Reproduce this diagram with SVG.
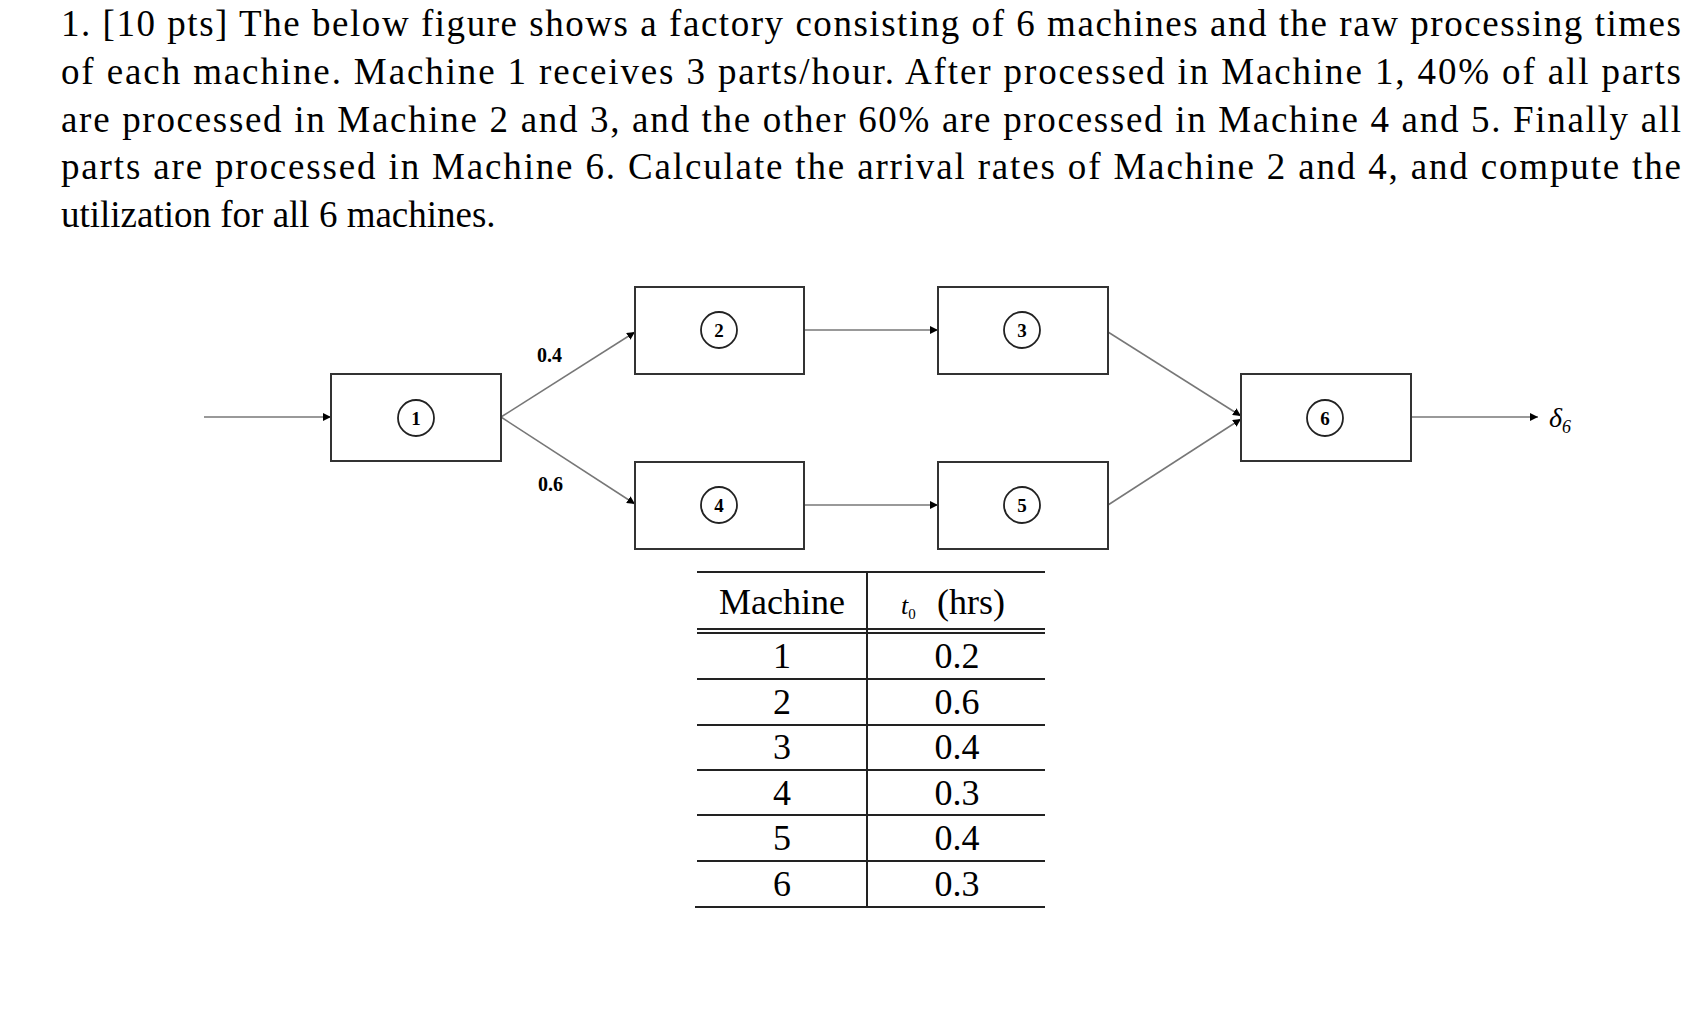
<svg xmlns="http://www.w3.org/2000/svg" width="1696" height="1014" viewBox="0 0 1696 1014">
<style>
.t{font-family:"Liberation Serif",serif;font-size:37px;fill:#000}
.box{fill:#fff;stroke:#333;stroke-width:2}
.c{fill:none;stroke:#222;stroke-width:1.8}
.n{font-family:"Liberation Serif",serif;font-size:19px;font-weight:bold;text-anchor:middle}
.lbl{font-family:"Liberation Serif",serif;font-size:20px;font-weight:bold}
.e{stroke:#777;stroke-width:1.5;fill:none}
.tb{font-family:"Liberation Serif",serif;font-size:36px;text-anchor:middle}
.tl{stroke:#222;stroke-width:2}
</style>
<defs><marker id="a" viewBox="0 0 10 10" refX="10" refY="5" markerWidth="8" markerHeight="8" markerUnits="userSpaceOnUse" orient="auto"><path d="M0,0L10,5L0,10z" fill="#000"/></marker></defs>
<rect width="1696" height="1014" fill="#fff"/>
<g id="question">
<text class="t" x="61" y="36" textLength="1620" lengthAdjust="spacing">1. [10 pts] The below figure shows a factory consisting of 6 machines and the raw processing times</text>
<text class="t" x="61" y="84" textLength="1620" lengthAdjust="spacing">of each machine. Machine 1 receives 3 parts/hour. After processed in Machine 1, 40% of all parts</text>
<text class="t" x="61" y="132" textLength="1620" lengthAdjust="spacing">are processed in Machine 2 and 3, and the other 60% are processed in Machine 4 and 5. Finally all</text>
<text class="t" x="61" y="179" textLength="1620" lengthAdjust="spacing">parts are processed in Machine 6. Calculate the arrival rates of Machine 2 and 4, and compute the</text>
<text class="t" x="61" y="227">utilization for all 6 machines.</text>
</g>
<g id="connectors">
<line class="e" x1="204" y1="417" x2="331" y2="417" marker-end="url(#a)"/>
<line class="e" x1="501" y1="417" x2="635" y2="332" marker-end="url(#a)"/>
<line class="e" x1="501" y1="417" x2="635" y2="504" marker-end="url(#a)"/>
<line class="e" x1="804" y1="330" x2="938" y2="330" marker-end="url(#a)"/>
<line class="e" x1="804" y1="505" x2="938" y2="505" marker-end="url(#a)"/>
<line class="e" x1="1108" y1="332" x2="1241" y2="416" marker-end="url(#a)"/>
<line class="e" x1="1108" y1="505" x2="1241" y2="419" marker-end="url(#a)"/>
<line class="e" x1="1411" y1="417" x2="1538" y2="417" marker-end="url(#a)"/>
<text class="lbl" x="537" y="362">0.4</text>
<text class="lbl" x="538" y="491">0.6</text>
<text x="1549" y="427" font-family="Liberation Serif,serif" font-style="italic" font-size="28">δ<tspan font-size="18" dy="6">6</tspan></text>
</g>
<g id="m1"><rect class="box" x="331" y="374" width="170" height="87"/><circle class="c" cx="416" cy="418" r="18"/><text class="n" x="416" y="425">1</text></g>
<g id="m2"><rect class="box" x="635" y="287" width="169" height="87"/><circle class="c" cx="719" cy="330" r="18"/><text class="n" x="719" y="337">2</text></g>
<g id="m3"><rect class="box" x="938" y="287" width="170" height="87"/><circle class="c" cx="1022" cy="330" r="18"/><text class="n" x="1022" y="337">3</text></g>
<g id="m4"><rect class="box" x="635" y="462" width="169" height="87"/><circle class="c" cx="719" cy="505" r="18"/><text class="n" x="719" y="512">4</text></g>
<g id="m5"><rect class="box" x="938" y="462" width="170" height="87"/><circle class="c" cx="1022" cy="505" r="18"/><text class="n" x="1022" y="512">5</text></g>
<g id="m6"><rect class="box" x="1241" y="374" width="170" height="87"/><circle class="c" cx="1325" cy="418" r="18"/><text class="n" x="1325" y="425">6</text></g>
<g id="table">
<line class="tl" x1="697" y1="572" x2="1045" y2="572"/>
<line class="tl" x1="697" y1="629" x2="1045" y2="629"/>
<line class="tl" x1="697" y1="633" x2="1045" y2="633"/>
<line class="tl" x1="697" y1="679" x2="1045" y2="679"/>
<line class="tl" x1="697" y1="725" x2="1045" y2="725"/>
<line class="tl" x1="697" y1="770" x2="1045" y2="770"/>
<line class="tl" x1="697" y1="815" x2="1045" y2="815"/>
<line class="tl" x1="697" y1="861" x2="1045" y2="861"/>
<line class="tl" x1="695" y1="907" x2="1045" y2="907"/>
<line class="tl" x1="867" y1="572" x2="867" y2="907"/>
<text class="tb" x="782" y="614">Machine</text>
<text x="901" y="614" font-family="Liberation Serif,serif" font-size="36"><tspan font-style="italic" font-size="26">t</tspan><tspan font-size="15" dy="5">0</tspan><tspan dy="-5" x="937">(hrs)</tspan></text>
<text class="tb" x="782" y="668">1</text><text class="tb" x="957" y="668">0.2</text>
<text class="tb" x="782" y="714">2</text><text class="tb" x="957" y="714">0.6</text>
<text class="tb" x="782" y="759">3</text><text class="tb" x="957" y="759">0.4</text>
<text class="tb" x="782" y="805">4</text><text class="tb" x="957" y="805">0.3</text>
<text class="tb" x="782" y="850">5</text><text class="tb" x="957" y="850">0.4</text>
<text class="tb" x="782" y="896">6</text><text class="tb" x="957" y="896">0.3</text>
</g>
</svg>
